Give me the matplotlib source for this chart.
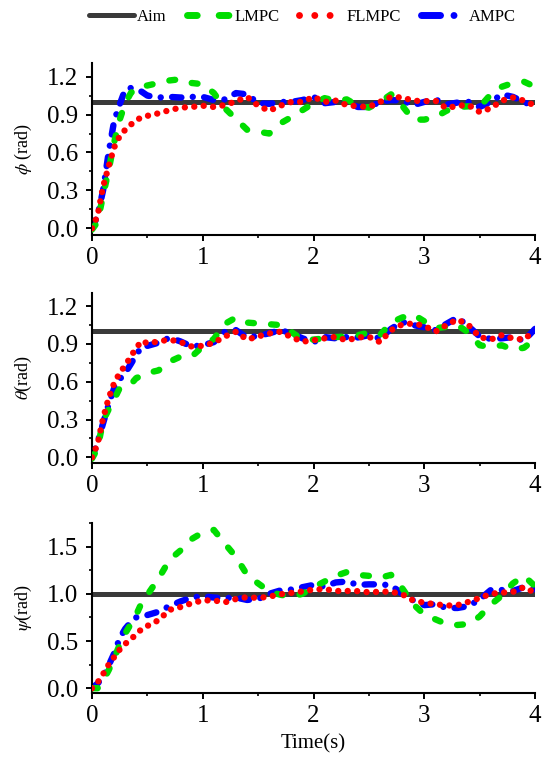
import matplotlib
matplotlib.use('Agg')
import matplotlib.pyplot as plt
from matplotlib.lines import Line2D
from matplotlib.ticker import MultipleLocator, FormatStrFormatter

plt.rcParams['font.family'] = ['Liberation Serif', 'DejaVu Serif']
plt.rcParams['mathtext.fontset'] = 'stix'
plt.rcParams['lines.scale_dashes'] = False

# time base (s)
time = [0, 0.05, 0.1, 0.15, 0.2, 0.25, 0.3, 0.35, 0.4, 0.45, 0.5,
        0.6, 0.7, 0.8, 0.9, 1.0, 1.1, 1.2, 1.3, 1.4, 1.5,
        1.6, 1.7, 1.8, 1.9, 2.0, 2.1, 2.2, 2.3, 2.4, 2.5,
        2.6, 2.7, 2.8, 2.9, 3.0, 3.1, 3.2, 3.3, 3.4, 3.5,
        3.6, 3.7, 3.8, 3.9, 4.0]
aim = 1.0

# roll angle phi
phi_lmpc = [-0.01, 0.05, 0.26, 0.46, 0.68, 0.86, 0.99, 1.07, 1.11, 1.125, 1.13,
            1.15, 1.17, 1.18, 1.15, 1.14, 1.07, 0.95, 0.865, 0.78, 0.765,
            0.75, 0.83, 0.88, 0.935, 0.99, 1.03, 1.01, 1.02, 0.97, 0.955,
            1.0, 1.06, 0.97, 0.86, 0.86, 0.88, 0.93, 0.96, 0.965, 0.96,
            1.06, 1.12, 1.15, 1.16, 1.12]
phi_flmpc = [0, 0.10, 0.33, 0.49, 0.64, 0.73, 0.78, 0.82, 0.855, 0.88, 0.89,
             0.91, 0.935, 0.955, 0.96, 0.97, 0.96, 0.975, 1.005, 1.04, 0.97,
             0.93, 0.97, 1.0, 1.0, 1.04, 1.0, 1.01, 0.975, 0.965, 0.96,
             1.0, 1.04, 1.035, 1.01, 1.005, 1.01, 0.95, 0.97, 0.975, 0.92,
             0.95, 1.01, 1.035, 1.01, 0.97]
phi_ampc = [0, 0.10, 0.30, 0.60, 0.85, 0.98, 1.10, 1.11, 1.10, 1.08, 1.05,
            1.035, 1.04, 1.035, 1.04, 1.04, 1.015, 1.02, 1.07, 1.06, 0.99,
            0.985, 1.0, 1.0, 1.015, 1.04, 0.99, 1.0, 1.0, 0.96, 0.96,
            1.0, 1.015, 1.01, 0.975, 1.0, 1.02, 0.98, 0.995, 1.0, 0.96,
            1.0, 1.06, 1.04, 1.0, 0.96]

# pitch angle theta
theta_lmpc = [-0.01, 0.07, 0.29, 0.38, 0.46, 0.55, 0.565, 0.58, 0.63, 0.645, 0.67,
              0.69, 0.76, 0.80, 0.80, 0.88, 0.94, 1.06, 1.11, 1.07, 1.063,
              1.057, 1.05, 0.995, 0.935, 0.935, 0.945, 0.955, 0.96, 0.97, 0.99,
              0.97, 1.07, 1.11, 1.135, 1.08, 1.025, 1.036, 1.05, 0.99, 0.89,
              0.875, 0.89, 0.855, 0.87, 0.94]
theta_flmpc = [0, 0.105, 0.31, 0.47, 0.59, 0.67, 0.73, 0.80, 0.87, 0.925, 0.905,
               0.92, 0.935, 0.915, 0.88, 0.885, 0.91, 0.96, 0.997, 0.935, 0.96,
               0.984, 0.997, 0.955, 0.918, 0.93, 0.945, 0.957, 0.928, 0.952, 0.957,
               0.915, 1.01, 1.055, 1.063, 1.044, 0.998, 1.05, 1.095, 1.05, 0.955,
               0.935, 0.97, 0.944, 0.935, 1.01]
theta_ampc = [0, 0.12, 0.27, 0.42, 0.55, 0.62, 0.67, 0.74, 0.815, 0.88, 0.885,
              0.91, 0.95, 0.92, 0.88, 0.89, 0.915, 0.997, 1.01, 0.95, 0.965,
              0.985, 1.01, 0.985, 0.945, 0.915, 0.955, 0.945, 0.955, 0.952, 0.97,
              0.944, 1.02, 1.075, 1.05, 1.033, 1.01, 1.06, 1.11, 1.04, 0.96,
              0.94, 0.945, 0.955, 0.925, 1.02]

# yaw angle psi
psi_lmpc = [0, 0.0, 0.08, 0.19, 0.32, 0.46, 0.58, 0.68, 0.78, 0.91, 0.99,
            1.16, 1.36, 1.46, 1.58, 1.65, 1.676, 1.53, 1.39, 1.2, 1.11,
            1.025, 0.99, 0.97, 1.0, 1.07, 1.13, 1.19, 1.23, 1.2, 1.19,
            1.17, 1.2, 1.06, 0.89, 0.78, 0.73, 0.68, 0.67, 0.68, 0.76,
            0.885, 0.98, 1.11, 1.19, 1.08]
psi_flmpc = [0, 0.06, 0.15, 0.25, 0.33, 0.41, 0.47, 0.52, 0.57, 0.63, 0.66,
             0.72, 0.83, 0.86, 0.90, 0.93, 0.93, 0.91, 0.945, 0.965, 0.955,
             0.97, 0.995, 1.01, 1.025, 1.045, 1.05, 1.03, 1.03, 1.028, 1.016,
             1.022, 1.023, 0.995, 0.93, 0.905, 0.89, 0.875, 0.88, 0.915, 0.955,
             1.0, 1.013, 1.02, 1.07, 1.01]
psi_ampc = [0, 0.05, 0.12, 0.24, 0.37, 0.53, 0.63, 0.70, 0.75, 0.76, 0.775,
            0.81, 0.87, 0.92, 0.96, 0.975, 0.96, 0.955, 0.96, 0.935, 0.945,
            1.0, 1.035, 1.045, 1.07, 1.094, 1.076, 1.12, 1.13, 1.095, 1.1,
            1.1, 1.09, 1.0, 0.93, 0.88, 0.89, 0.85, 0.85, 0.87, 0.94,
            1.04, 1.04, 1.03, 1.07, 1.04]

c_aim = '#3a3a3a'
c_lmpc = '#00dd00'
c_flmpc = '#ff0000'
c_ampc = '#0000ff'
lw = 4.6

fig = plt.figure(figsize=(5.5, 7.61), dpi=100)
boxes = [[0.1673, 0.6912, 0.8055, 0.2260],
         [0.1673, 0.3916, 0.8055, 0.2234],
         [0.1673, 0.0894, 0.8055, 0.2234]]
panels = [
    (phi_lmpc, phi_flmpc, phi_ampc, r'$\phi$ (rad)', (-0.053, 1.308), 0.3),
    (theta_lmpc, theta_flmpc, theta_ampc, r'$\theta$(rad)', (-0.045, 1.305), 0.3),
    (psi_lmpc, psi_flmpc, psi_ampc, r'$\psi$(rad)', (-0.05, 1.75), 0.5),
]

for box, (lm, fl, am, ylab, ylim, step) in zip(boxes, panels):
    ax = fig.add_axes(box)
    ax.plot(time, [aim] * len(time), color=c_aim, lw=3.6, solid_capstyle='butt', zorder=1)
    ax.plot(time, am, color=c_ampc, lw=lw, dash_capstyle='round',
            linestyle=(0, (6.7, 8.2, 0.01, 8.2)), zorder=2)
    ax.plot(time, lm, color=c_lmpc, lw=lw, dash_capstyle='round',
            linestyle=(0, (4.2, 12.4)), zorder=3)
    ax.plot(time, fl, color=c_flmpc, lw=lw, dash_capstyle='round',
            linestyle=(0, (0.01, 6.8)), zorder=4)
    ax.set_xlim(0, 4)
    ax.set_ylim(*ylim)
    ax.spines['top'].set_visible(False)
    ax.spines['right'].set_visible(False)
    for s in ('left', 'bottom'):
        ax.spines[s].set_linewidth(1.5)
    ax.xaxis.set_major_locator(MultipleLocator(1))
    ax.xaxis.set_minor_locator(MultipleLocator(0.5))
    ax.yaxis.set_major_locator(MultipleLocator(step))
    ax.yaxis.set_minor_locator(MultipleLocator(step / 2))
    ax.yaxis.set_major_formatter(FormatStrFormatter('%.1f'))
    ax.tick_params(which='major', direction='out', length=4, width=1.4,
                   labelsize=18)
    ax.tick_params(axis='y', which='major', pad=6)
    ax.tick_params(axis='x', which='major', pad=5)
    ax.tick_params(which='minor', direction='out', length=2.5, width=1.2)
    ax.set_ylabel(ylab, fontsize=13)
    ax.yaxis.set_label_coords(-0.13, 0.5)

ax.set_xlabel('Time(s)', fontsize=15, labelpad=5)

handles = [
    Line2D([], [], color=c_aim, lw=3.6, solid_capstyle='round'),
    Line2D([], [], color=c_lmpc, lw=5, dash_capstyle='round', linestyle=(0, (7, 15.8))),
    Line2D([], [], color=c_flmpc, lw=5, dash_capstyle='round', linestyle=(0, (0.01, 11))),
    Line2D([], [], color=c_ampc, lw=5, dash_capstyle='round',
           linestyle=(0, (13.7, 9.7, 0.01, 9.7))),
]
fig.legend(handles, ['Aim', 'LMPC', 'FLMPC', 'AMPC'], loc='center',
           bbox_to_anchor=(0.55, 0.978), ncol=4, frameon=False, fontsize=12,
           handlelength=2.7, handletextpad=0.15, columnspacing=1.2)

fig.savefig('out.png', dpi=100)
